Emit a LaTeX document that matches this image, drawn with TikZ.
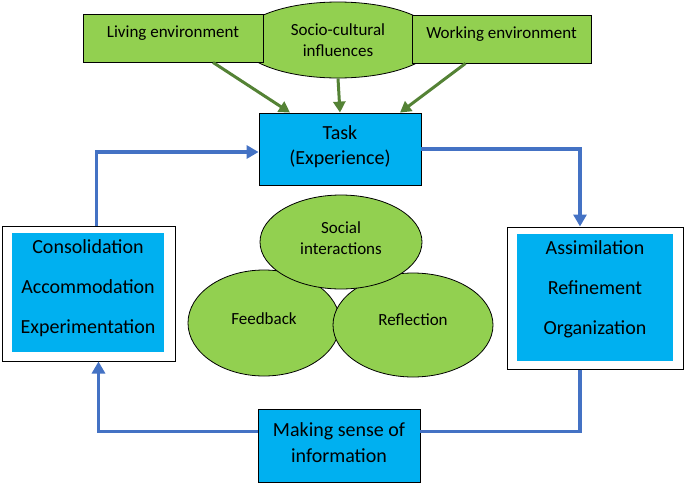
\documentclass[tikz,border=0pt]{standalone}
\usepackage{fontspec}
\setmainfont{Carlito}
\usetikzlibrary{arrows.meta,shapes.geometric}
\definecolor{gfill}{HTML}{92D050}
\definecolor{garrow}{HTML}{548235}
\definecolor{cfill}{HTML}{00B0F0}
\definecolor{barrow}{HTML}{4472C4}
\tikzset{
  gbox/.style={draw=black, line width=0.8pt, fill=gfill, inner sep=0pt},
  gell/.style={ellipse, draw=black, line width=0.8pt, fill=gfill, inner sep=0pt},
  smalltxt/.style={inner sep=0pt, align=center, font=\fontsize{17}{21}\selectfont},
  bigtxt/.style={inner sep=0pt, align=center, font=\fontsize{20}{40}\selectfont},
  cbox/.style={draw=black, line width=0.8pt, fill=cfill, inner sep=0pt},
  outbox/.style={draw=black, line width=1pt, fill=white, inner sep=0pt},
  inbox/.style={fill=cfill, inner sep=0pt},
  garr/.style={draw=garrow, line width=3pt, -{Triangle[length=11pt,width=12pt]}},
  barr/.style={draw=barrow, line width=3.5pt},
  barrh/.style={barr, -{Triangle[length=12pt,width=13pt]}}
}
\begin{document}
\begin{tikzpicture}[x=1pt,y=-1pt]
\useasboundingbox (0,0) rectangle (685,485);
% top
\node[gell, minimum width=198pt, minimum height=76pt] (socio) at (338,40) {};
\node[gbox, minimum width=180pt, minimum height=48pt] (live) at (173,38) {};
\node[gbox, minimum width=179pt, minimum height=48pt] (work) at (501.5,39) {};
\node[smalltxt] (sociot) at (338,40) {Socio-cultural\\influences};
\node[smalltxt] (livet) at (173,33) {Living environment};
\node[smalltxt] (workt) at (501.5,34) {Working environment};
% task
\node[cbox, minimum width=162pt, minimum height=72pt] (task) at (340,149) {};
\node[bigtxt, font=\fontsize{20}{25}\selectfont] (taskt) at (340,147) {Task\\(Experience)};
% green arrows
\draw[garr] ([xshift=40pt]live.south) -- ([xshift=-50pt]task.north);
\draw[garr] (socio.south) -- (task.north);
\draw[garr] ([xshift=-36pt]work.south) -- ([xshift=60pt]task.north);
% side boxes
\node[outbox, minimum width=173pt, minimum height=135pt] (leftout) at (88.5,293.5) {};
\node[inbox, minimum width=152pt, minimum height=119pt] (leftin) at (88,292.5) {};
\node[bigtxt] (leftt) at (88,288.5) {Consolidation\\Accommodation\\Experimentation};
\node[outbox, minimum width=176pt, minimum height=142pt] (rightout) at (595,298) {};
\node[inbox, minimum width=156pt, minimum height=127pt] (rightin) at (595,297.5) {};
\node[bigtxt] (rightt) at (595,289.5) {Assimilation\\Refinement\\Organization};
% bottom
\node[cbox, minimum width=162pt, minimum height=73pt] (make) at (339,445.5) {};
\node[bigtxt, font=\fontsize{20}{26}\selectfont] (maket) at (339,443) {Making sense of\\information};
% ellipses
\node[gell, minimum width=152pt, minimum height=106pt] (feed) at (264,323) {};
\node[smalltxt] (feedt) at (264,319) {Feedback};
\node[gell, minimum width=160pt, minimum height=104pt] (refl) at (413,325) {};
\node[smalltxt] (reflt) at (413,320) {Reflection};
\node[gell, minimum width=162pt, minimum height=94pt] (social) at (341,242) {};
\node[smalltxt] (socialt) at (341,238) {Social\\interactions};
% blue connectors
\draw[barrh] ([xshift=8pt]leftout.north) |- ([yshift=-3pt]task.west);
\draw[barrh] (task.east) -| ([xshift=-15pt]rightout.north);
\draw[barr] ([xshift=-15pt]rightout.south) |- ([yshift=14pt]make.east);
\draw[barrh] ([yshift=14pt]make.west) -| ([xshift=10pt]leftout.south);
\end{tikzpicture}
\end{document}
